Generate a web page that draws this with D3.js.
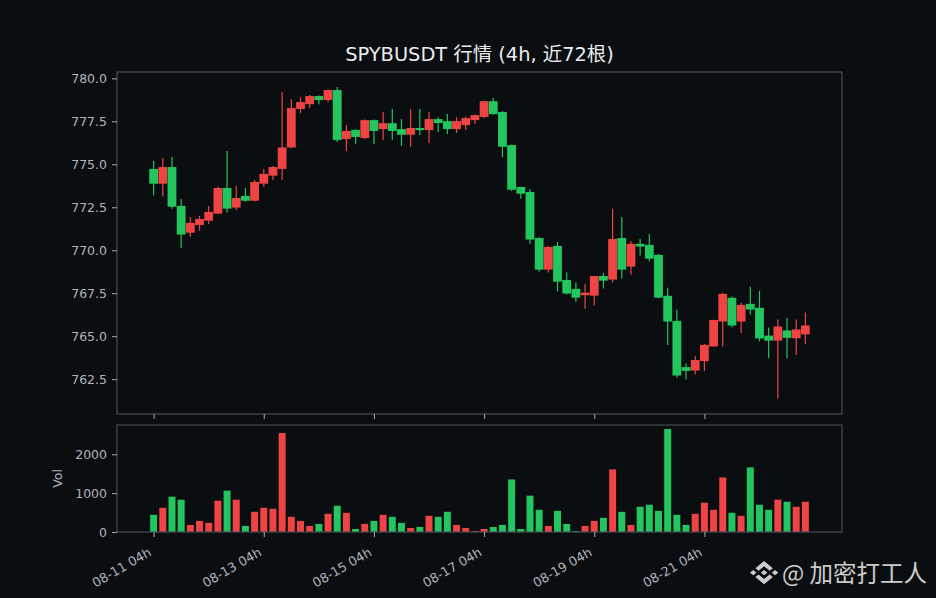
<!DOCTYPE html>
<html><head><meta charset="utf-8">
<script src="https://cdn.jsdelivr.net/npm/d3@7"></script>
<style>html,body{margin:0;padding:0;background:#0b0e11;} svg{display:block;}</style>
</head><body>
<svg id="c" width="936" height="598"></svg>
<script>
const title = "SPYBUSDT 行情 (4h, 近72根)";
const openP  = [774.73,773.87,774.84,772.58,771.02,771.47,771.72,772.13,773.62,772.48,773.16,772.88,773.87,774.34,774.73,775.98,778.22,778.50,778.97,778.74,
                779.32,776.47,777.00,776.53,777.57,777.05,777.39,777.05,776.72,777.11,776.99,777.63,777.51,777.05,777.28,777.57,777.75,778.67,778.04,776.12,
                773.68,773.39,770.71,768.87,770.25,768.27,767.75,767.38,767.36,768.50,768.29,770.71,769.05,770.37,770.31,769.73,767.35,765.89,763.20,763.00,
                763.55,764.40,765.85,767.23,765.85,766.88,766.65,765.03,764.74,765.33,764.88,765.10];
const highP  = [775.19,775.37,775.42,772.98,771.94,772.00,772.58,773.70,775.77,773.74,773.62,774.09,774.73,774.90,779.20,778.79,778.91,779.03,779.00,779.35,
                779.50,777.28,777.05,777.60,777.60,778.04,778.21,777.63,778.21,778.21,778.04,777.74,777.92,777.74,777.80,777.90,778.70,778.85,778.10,776.15,
                773.70,773.56,770.75,770.25,770.48,768.70,768.10,768.04,768.52,768.68,772.40,771.94,770.54,770.66,770.95,769.78,767.81,766.53,763.43,763.84,
                764.55,765.96,767.52,767.30,766.94,767.87,767.63,765.50,765.97,766.05,765.97,766.38];
const lowP   = [773.18,773.12,772.42,770.15,770.79,771.14,771.53,772.10,772.19,772.34,772.83,772.83,773.70,774.09,774.09,775.95,777.98,778.27,778.50,778.62,
                776.30,775.77,776.18,776.47,776.18,776.41,776.41,776.07,776.00,776.70,776.24,776.88,776.76,776.82,776.99,777.34,777.69,777.90,775.42,773.45,
                773.00,770.38,768.75,768.70,767.60,767.42,767.00,766.60,766.78,767.77,768.12,768.35,768.58,769.69,769.34,767.20,764.49,762.59,762.48,762.77,
                762.97,764.38,764.40,765.50,765.20,766.26,764.70,763.72,761.37,763.72,763.90,764.55];
const closeP = [773.87,774.84,772.53,770.91,771.59,771.82,772.23,773.62,772.42,773.04,772.88,773.97,774.44,774.84,775.98,778.27,778.62,778.97,778.74,779.32,
                776.41,776.94,776.59,777.57,776.94,777.39,776.94,776.72,777.11,776.99,777.63,777.40,777.05,777.51,777.69,777.86,778.67,777.92,776.02,773.52,
                773.29,770.62,768.87,770.19,768.17,767.48,767.24,767.53,768.50,768.23,770.66,768.87,770.37,770.21,769.51,767.24,765.85,762.71,762.98,763.61,
                764.49,765.94,767.46,765.62,766.82,766.55,764.87,764.74,765.56,764.90,765.39,765.62];
const volume = [442,623,909,831,182,286,234,805,1065,831,156,519,623,597,2545,390,286,156,208,468,
                675,494,78,208,286,442,390,234,104,130,416,390,519,182,104,26,78,130,182,1351,
                78,935,571,156,545,208,26,156,286,364,1610,519,182,649,701,545,2649,442,182,468,
                753,571,1403,494,416,1662,701,571,831,779,649,779];
const priceTicks = [762.5,765.0,767.5,770.0,772.5,775.0,777.5,780.0];
const volTicks = [0,1000,2000];
const timeTickIdx = [0,12,24,36,48,60];
const timeTickLabels = ["08-11 04h","08-13 04h","08-15 04h","08-17 04h","08-19 04h","08-21 04h"];
const watermark = "@ 加密打工人";

const UP = "#ef4444", DOWN = "#22c55e";
const FONT = "'DejaVu Sans', 'Noto Sans CJK SC', sans-serif";
const W = 936, H = 598;
const L = 117, R = 842, mainT = 72, mainB = 414, volT = 425, volB = 532;

const svg = d3.select("#c");
svg.append("rect").attr("width", W).attr("height", H).attr("fill", "#0b0e11");

const x = d3.scaleLinear().domain([-3.99, 74.99]).range([L, R]);
const y = d3.scaleLinear().domain([760.47, 780.37]).range([mainB, mainT]);
const yv = d3.scaleLinear().domain([0, 2752]).range([volB, volT]);
const step = x(1) - x(0);

const data = openP.map((o, i) => ({i, o, h: highP[i], l: lowP[i], c: closeP[i], v: volume[i]}));

// title
svg.append("text").attr("x", (L + R) / 2).attr("y", 61).attr("text-anchor", "middle")
  .attr("fill", "#eaecef").attr("font-family", FONT).attr("font-size", "19.4px").text(title);

// candles
const g = svg.append("g");
g.selectAll("line.wick").data(data).join("line")
  .attr("x1", d => x(d.i)).attr("x2", d => x(d.i))
  .attr("y1", d => y(d.h)).attr("y2", d => y(d.l))
  .attr("stroke", d => d.c >= d.o ? UP : DOWN).attr("stroke-width", 1.2);
g.selectAll("rect.body").data(data).join("rect")
  .attr("x", d => x(d.i) - step * 0.48).attr("width", step * 0.96)
  .attr("y", d => y(Math.max(d.o, d.c)))
  .attr("height", d => Math.max(1, Math.abs(y(d.o) - y(d.c))))
  .attr("fill", d => d.c >= d.o ? UP : DOWN);

// volume
svg.append("g").selectAll("rect").data(data).join("rect")
  .attr("x", d => x(d.i) - step * 0.38).attr("width", step * 0.76)
  .attr("y", d => yv(d.v)).attr("height", d => yv(0) - yv(d.v))
  .attr("fill", d => d.c >= d.o ? UP : DOWN);

// frames
[[mainT, mainB], [volT, volB]].forEach(([t, b]) => {
  svg.append("rect").attr("x", L).attr("y", t).attr("width", R - L).attr("height", b - t)
    .attr("fill", "none").attr("stroke", "#474d57").attr("stroke-width", 1.2);
});

function styleAxis(sel) {
  sel.select(".domain").remove();
  sel.selectAll(".tick line").attr("stroke", "#9aa0a8").attr("stroke-width", 1.1);
  sel.selectAll(".tick text").attr("fill", "#aeb4bc").attr("font-family", FONT).attr("font-size", "12.5px");
}

svg.append("g").attr("transform", `translate(${L},0)`)
  .call(d3.axisLeft(y).tickValues(priceTicks).tickFormat(d3.format(".1f")).tickSize(5).tickPadding(5))
  .call(styleAxis);
svg.append("g").attr("transform", `translate(${L},0)`)
  .call(d3.axisLeft(yv).tickValues(volTicks).tickFormat(d3.format("d")).tickSize(5).tickPadding(5))
  .call(styleAxis);
svg.append("g").attr("transform", `translate(0,${mainB})`)
  .call(d3.axisBottom(x).tickValues(timeTickIdx).tickFormat("").tickSize(5))
  .call(styleAxis);
const xa = svg.append("g").attr("transform", `translate(0,${volB})`)
  .call(d3.axisBottom(x).tickValues(timeTickIdx).tickFormat((d, k) => timeTickLabels[k]).tickSize(5))
  .call(styleAxis);
xa.selectAll(".tick text")
  .attr("text-anchor", "end").attr("dy", null).attr("y", null)
  .attr("dominant-baseline", "central")
  .attr("font-size", "12.8px")
  .attr("transform", "translate(-4,19) rotate(-30)");

// Vol label
svg.append("text").attr("transform", `translate(62,${(volT + volB) / 2}) rotate(-90)`)
  .attr("text-anchor", "middle").attr("fill", "#aeb4bc").attr("font-family", FONT)
  .attr("font-size", "12.5px").text("Vol");

// watermark
const wm = svg.append("g").attr("opacity", 0.88);
wm.append("path")
  .attr("transform", "translate(750,561) scale(0.225,0.185)")
  .attr("fill", "#e6e6e6")
  .attr("d", "M38.171 53.203L62.759 28.616l24.6 24.6 14.306-14.307L62.759 0 23.864 38.896zM0 63.001l14.306-14.307 14.306 14.307L14.306 77.307zM38.171 72.8l24.588 24.586 24.599-24.598 14.313 14.3-.007.008-38.905 38.904L23.864 87.107l-.02-.02zM96.905 63.007l14.306-14.307 14.306 14.307-14.306 14.306zM77.277 62.993h.006L62.759 48.467 52.024 59.2l-1.234 1.233-2.54 2.541-.02.02.02.02 14.51 14.512 14.52-14.527.006-.006-.013-.007z");
wm.append("text").attr("x", 782).attr("y", 582).attr("fill", "#e6e6e6")
  .attr("font-family", "'Noto Sans CJK SC', 'Noto Sans', sans-serif").attr("font-size", "23.5px")
  .text(watermark);
</script>
</body></html>
